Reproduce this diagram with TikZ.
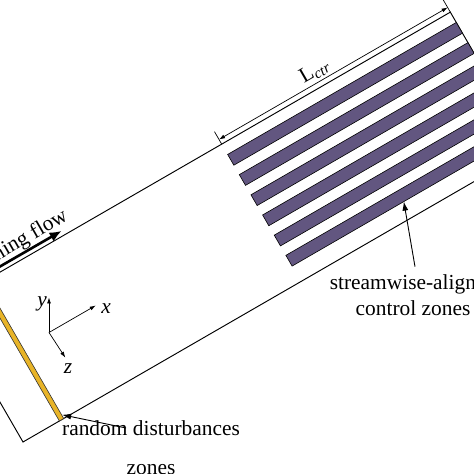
\documentclass[tikz,border=0pt]{standalone}
\usepackage{fontspec}
\setmainfont{Liberation Serif}
\usetikzlibrary{arrows.meta,positioning}
\definecolor{ctrpurple}{RGB}{98,86,128}
\definecolor{rdgold}{RGB}{232,180,40}
\tikzstyle{edge} = [line width=0.95pt, draw=black]
\tikzstyle{ctrzone} = [draw=black, line width=0.6pt, fill=ctrpurple]
\tikzstyle{rdzone} = [draw=black!80, line width=0.6pt, fill=rdgold]
\tikzstyle{dimline} = [line width=0.7pt, {Latex[length=6pt,width=4pt]}-{Latex[length=6pt,width=4pt]}]
\tikzstyle{flowarrow} = [line width=2.6pt, -{Latex[length=12pt,width=10pt]}]
\tikzstyle{pointer} = [line width=0.9pt, -{Latex[length=9pt,width=6pt]}]
\tikzstyle{axisarrow} = [line width=0.7pt, -{Latex[length=6pt,width=4pt]}]
\tikzstyle{lbltext} = [font=\fontsize{21.4}{26}\selectfont, inner sep=0pt, align=center]
\tikzstyle{axislbl} = [font=\fontsize{21.4}{26}\selectfont\itshape, inner sep=0pt]

\begin{document}
\begin{tikzpicture}[x=1pt,y=1pt]
\useasboundingbox (0,0) rectangle (474,474);
\clip (0,0) rectangle (474,474);

% Channel domain, flow-aligned frame
\begin{scope}[shift={(23,32)}, rotate=30]
  \draw[edge] (0,0) rectangle (585,158.6);
  % random disturbances strip
  \draw[rdzone] (42,0) rectangle (47,158.6);
  % streamwise-aligned control stripes
  \foreach \v in {140.5,117.2,93.9,70.6,47.3,24.0}
    \draw[ctrzone] (321,\v-6.2) rectangle (585,\v+6.2);
  % length of control zone
  \draw[line width=0.7pt] (321,158.6) -- (321,173);
  \draw[line width=0.7pt] (585,158.6) -- (585,182);
  \draw[dimline] (321,164) -- (585,164);
  \node[lbltext, rotate=30] (lctr) at (438,175.5) {L\textsubscript{\itshape ctr}};
  % incoming flow
  \coordinate (flowstart) at (20,163.5);
  \coordinate (flowend) at (139,163.5);
  \draw[flowarrow] (flowstart) -- (flowend);
  \node[lbltext, rotate=30, anchor=base east] (flow) at (151,169.5) {Incoming flow};
  % pointer targets
  \coordinate (rdtip) at (47.5,4);
  \coordinate (ctrtip) at (450,17.8);
\end{scope}

% Coordinate axes
\coordinate (ax) at (49,141.5);
\draw[axisarrow] (ax) -- ++(30:54) coordinate (xtip);
\draw[axisarrow] (ax) -- ++(90:35) coordinate (ytip);
\draw[axisarrow] (ax) -- ++(-57:30) coordinate (ztip);
\node[axislbl] (xlbl) at (106,165) {x};
\node[axislbl] (ylbl) at (42,170) {y};
\node[axislbl] (zlbl) at (68,105) {z};

% Labels
\node[lbltext, font=\fontsize{21.4}{39}\selectfont, anchor=north] (rdlbl) at (151,54) {random disturbances\\zones};
\node[lbltext, anchor=north] (ctrlbl) at (413,199.3) {streamwise-aligned\\control zones};
\draw[pointer] ([xshift=-25pt,yshift=-8pt]rdlbl.north) -- (rdtip);
\draw[pointer] ([xshift=2pt,yshift=8pt]ctrlbl.north) -- (ctrtip);
\end{tikzpicture}
\end{document}
